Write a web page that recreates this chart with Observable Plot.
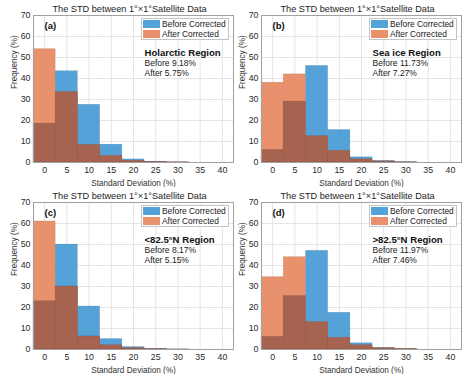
<!DOCTYPE html>
<html><head><meta charset="utf-8">
<script src="https://cdn.jsdelivr.net/npm/d3@7"></script>
<script src="https://cdn.jsdelivr.net/npm/@observablehq/plot@0.6"></script>
<style>
body{margin:0;background:#fff;font-family:"Liberation Sans",Arial,sans-serif;}
#fig{position:relative;width:474px;height:375px;overflow:hidden;background:#fff;}
.panel{position:absolute;width:237px;height:187px;}
.panel svg{position:absolute;left:0;top:0;}
.legend{position:absolute;left:141px;top:18px;width:88px;height:22px;border:1px solid #c4c4c4;background:#fff;box-sizing:border-box;font-size:8.4px;color:#222;}
.row{position:absolute;left:1px;height:10px;display:flex;align-items:center;white-space:nowrap;}
.sw{width:17px;height:8px;margin-right:2px;}
</style></head><body><div id="fig"></div>
<script>
const binCenters = [0, 5, 10, 15, 20, 25, 30, 35, 40];
const xTicks = [0, 5, 10, 15, 20, 25, 30, 35, 40];
const yTicks = [0, 10, 20, 30, 40, 50, 60, 70];
const panelLetters = ["(a)", "(b)", "(c)", "(d)"];
const regionNames = ["Holarctic Region", "Sea ice Region", "<82.5°N Region", ">82.5°N Region"];
const beforeStd = ["9.18%", "11.73%", "8.17%", "11.97%"];
const afterStd = ["5.75%", "7.27%", "5.15%", "7.46%"];
const legendLabels = ["Before Corrected", "After Corrected"];
const titleText = "The STD between 1°×1°Satellite Data";
const xLabel = "Standard Deviation (%)";
const yLabel = "Frequency (%)";

// frequencies (%) per bin
const beforeHolarctic = [18.5, 43.5, 27.5, 8.5, 1.5, 0.4, 0.1, 0, 0];
const afterHolarctic  = [54, 33.5, 8.3, 3.1, 0.8, 0.2, 0.1, 0, 0];
const beforeSeaIce    = [6, 29, 46, 15.5, 2.5, 0.8, 0.2, 0, 0];
const afterSeaIce     = [38, 42, 12.5, 5.5, 1.5, 0.5, 0.1, 0, 0];
const beforeSouth     = [23, 50, 20.5, 5, 1.2, 0.3, 0.05, 0, 0];
const afterSouth      = [61, 30, 6.2, 2, 0.6, 0.2, 0.05, 0, 0];
const beforeNorth     = [6, 25.5, 47, 17.5, 3, 0.8, 0.2, 0, 0];
const afterNorth      = [34.5, 44, 13, 5.5, 2, 0.6, 0.2, 0, 0];

const beforeSeries = [beforeHolarctic, beforeSeaIce, beforeSouth, beforeNorth];
const afterSeries = [afterHolarctic, afterSeaIce, afterSouth, afterNorth];

const BLUE = "#55a2d9", ORANGE = "#e8916c", BROWN = "#a6634f";
const positions = [[0, 0], [228, 0], [0, 187], [228, 187]];

const fig = document.getElementById("fig");
const font = '"Liberation Sans", Arial, sans-serif';

for (let p = 0; p < 4; p++) {
  const rows = binCenters.map((c, i) => ({
    x1: c - 2.5, x2: c + 2.5,
    before: beforeSeries[p][i], after: afterSeries[p][i],
    both: Math.min(beforeSeries[p][i], afterSeries[p][i])
  }));
  const edge = {stroke: "#000", strokeOpacity: 0.12, strokeWidth: 0.6};
  const chart = Plot.plot({
    width: 237, height: 187,
    marginLeft: 33, marginRight: 4, marginTop: 15, marginBottom: 25,
    style: {fontFamily: font, fontSize: "8.8px", color: "#2a2a2a", background: "transparent"},
    x: {domain: [-2.5, 42.5]},
    y: {domain: [0, 70]},
    marks: [
      Plot.gridX(xTicks, {stroke: "#e4e4e4", strokeOpacity: 1}),
      Plot.gridY(yTicks, {stroke: "#e4e4e4", strokeOpacity: 1}),
      Plot.rectY(rows.filter(d => d.before > 0), {x1: "x1", x2: "x2", y: "before", fill: BLUE, ...edge}),
      Plot.rectY(rows.filter(d => d.after > 0), {x1: "x1", x2: "x2", y: "after", fill: ORANGE, ...edge}),
      Plot.rectY(rows.filter(d => d.both > 0), {x1: "x1", x2: "x2", y: "both", fill: BROWN, ...edge}),
      Plot.frame({stroke: "#a0a0a0"}),
      Plot.axisX(xTicks, {tickSize: 0, tickPadding: 4, label: null}),
      Plot.axisY(yTicks, {tickSize: 0, tickPadding: 3, label: null}),
      Plot.text([titleText], {text: d => d, frameAnchor: "top", dy: -4, dx: -4, lineAnchor: "bottom", fontSize: 9.2, fill: "#222"}),
      Plot.text([xLabel], {text: d => d, frameAnchor: "bottom", dy: 23, lineAnchor: "bottom", fontSize: 8.2, fill: "#333"}),
      Plot.text([yLabel], {text: d => d, frameAnchor: "left", dx: -19, rotate: -90, lineAnchor: "middle", fontSize: 8.2, fill: "#333"}),
      Plot.text([panelLetters[p]], {text: d => d, frameAnchor: "top-left", dx: 11, dy: 10, textAnchor: "start", lineAnchor: "middle", fontSize: 9.5, fontWeight: "bold", fill: "#111"}),
      Plot.text([regionNames[p]], {text: d => d, frameAnchor: "top-left", dx: 111, dy: 37, textAnchor: "start", lineAnchor: "middle", fontSize: 9.6, fontWeight: "bold", fill: "#111"}),
      Plot.text(["Before " + beforeStd[p]], {text: d => d, frameAnchor: "top-left", dx: 111, dy: 47.5, textAnchor: "start", lineAnchor: "middle", fontSize: 8.5, fill: "#222"}),
      Plot.text(["After " + afterStd[p]], {text: d => d, frameAnchor: "top-left", dx: 111, dy: 58, textAnchor: "start", lineAnchor: "middle", fontSize: 8.5, fill: "#222"})
    ]
  });
  const panel = document.createElement("div");
  panel.className = "panel";
  panel.style.left = positions[p][0] + "px";
  panel.style.top = positions[p][1] + "px";
  panel.appendChild(chart);
  const leg = document.createElement("div");
  leg.className = "legend";
  [BLUE, ORANGE].forEach((col, k) => {
    const r = document.createElement("div");
    r.className = "row";
    r.style.top = (k * 10) + "px";
    r.innerHTML = `<span class="sw" style="background:${col}"></span><span>${legendLabels[k]}</span>`;
    leg.appendChild(r);
  });
  panel.appendChild(leg);
  fig.appendChild(panel);
}
</script>
</body></html>
